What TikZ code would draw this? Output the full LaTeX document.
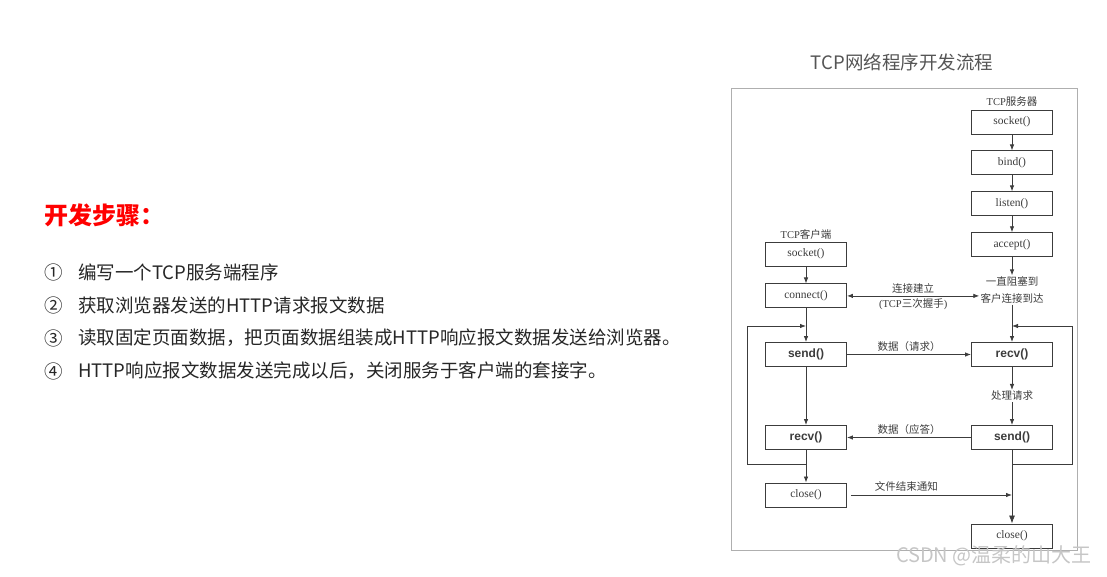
\documentclass[tikz,border=0pt]{standalone}
\usepackage{fontspec}
\setmainfont{Liberation Serif}
\setsansfont{Liberation Sans}
\newfontfamily\cjk{Noto Sans CJK SC}
\definecolor{stepRed}{RGB}{255,0,0}
\definecolor{lineGray}{RGB}{60,60,60}
\definecolor{frameGray}{RGB}{175,175,175}
\definecolor{titleGray}{RGB}{85,85,85}
\usetikzlibrary{arrows.meta, positioning, calc}

\begin{document}
\begin{tikzpicture}[x=1pt, y=-1pt,
  >={Latex[length=6pt,width=4.5pt]}, node distance=16pt,
  box/.style={draw=lineGray, line width=0.9pt, minimum width=81pt, minimum height=24pt,
              inner sep=0pt, text=lineGray, font=\fontsize{11.5}{13}\selectfont},
  iobox/.style={box, font=\sffamily\bfseries\fontsize{12}{14}\selectfont},
  lab/.style={inner sep=1pt, text=lineGray, align=center, font=\cjk\fontsize{10.5}{17}\selectfont},
  arr/.style={->, line width=0.8pt, lineGray},
  num/.style={text=black!85, font=\cjk\fontsize{18.5}{22}\selectfont},
  item/.style={anchor=west, inner sep=0pt, text=black!85, font=\cjk\fontsize{18.5}{22}\selectfont}]
  \useasboundingbox (0,0) rectangle (1107,576);

  \node[anchor=west, inner sep=0pt, text=stepRed, font=\cjk\bfseries\fontsize{24}{26}\selectfont]
       (steps) at (44,215) {开发步骤：};
  \node[num] (n1) at (54,272) {①}; \node[item] (t1) at (78,272) {编写一个TCP服务端程序};
  \node[num] (n2) at (54,305) {②}; \node[item] (t2) at (78,305) {获取浏览器发送的HTTP请求报文数据};
  \node[num] (n3) at (54,338) {③}; \node[item] (t3) at (78,338) {读取固定页面数据，把页面数据组装成HTTP响应报文数据发送给浏览器。};
  \node[num] (n4) at (54,371) {④}; \node[item] (t4) at (78,371) {HTTP响应报文数据发送完成以后，关闭服务于客户端的套接字。};

  \node[text=titleGray, font=\cjk\fontsize{18.5}{22}\selectfont] (title) at (902,62) {TCP网络程序开发流程};
  \draw[frameGray, line width=1pt] (731,88) rectangle (1077,550);

  \node[lab] (stitle) at (1012,102) {{\rmfamily TCP}服务器};
  \node[box] (ssock) at (1012,122) {socket()};
  \node[box, below=of ssock] (sbind) {bind()};
  \node[box, below=of sbind] (slisten) {listen()};
  \node[box, below=of slisten] (saccept) {accept()};
  \node[lab] (swait) at (1012,290) {一直阻塞到\\客户连接到达};
  \node[iobox] (srecv) at (1012,354.5) {recv()};
  \node[lab] (sproc) at (1012,396) {处理请求};
  \node[iobox] (ssend) at (1012,437.5) {send()};
  \node[box] (sclose) at (1012,536) {close()};

  \node[lab] (ctitle) at (806,234) {{\rmfamily TCP}客户端};
  \node[box] (csock) at (806,254) {socket()};
  \node[box, below=17pt of csock] (cconn) {connect()};
  \node[iobox] (csend) at (806,354.5) {send()};
  \node[iobox] (crecv) at (806,437.5) {recv()};
  \node[box] (cclose) at (806,495) {close()};

  \coordinate (cjoin) at (806,326); \coordinate (cback) at (806,464); \coordinate (cleft) at (747,326);
  \coordinate (sjoin) at (1012,326); \coordinate (sback) at (1012,464); \coordinate (sright) at (1072,326);

  \draw[arr] (ssock)--(sbind); \draw[arr] (sbind)--(slisten); \draw[arr] (slisten)--(saccept);
  \draw[arr] (saccept)--(swait); \draw[arr] (swait)--(srecv);
  \draw[arr] (srecv)--(sproc); \draw[arr] (sproc)--(ssend);
  \draw[arr, -{Latex[length=8pt,width=6pt]}] (ssend)--(sclose);
  \draw[arr] (sback) -| (sright) -- (sjoin);

  \draw[arr] (csock)--(cconn); \draw[arr] (cconn)--(csend); \draw[arr] (csend)--(crecv);
  \draw[arr] (crecv)--(cclose);
  \draw[arr] (cback) -| (cleft) -- (cjoin);

  \draw[arr, <->] (cconn.east) -- (cconn.east -| swait.west)
       node[lab, midway, above=1pt] {连接建立}
       node[lab, midway, below=1pt] {{\rmfamily (TCP}三次握手{\rmfamily )}};
  \draw[arr] (csend) -- (srecv) node[lab, midway, above=2pt] {数据（请求）};
  \draw[arr] (ssend) -- (crecv) node[lab, midway, above=2pt] {数据（应答）};
  \draw[arr, shorten <=4pt] (cclose.east) -- (cclose.east -| sclose)
       node[lab, pos=0.36, above=2pt] {文件结束通知};

  \node[anchor=east, inner sep=0pt, text=gray!45, font=\cjk\fontsize{20}{24}\selectfont]
       (mark) at (1092,556) {CSDN @温柔的山大王};
\end{tikzpicture}
\end{document}
